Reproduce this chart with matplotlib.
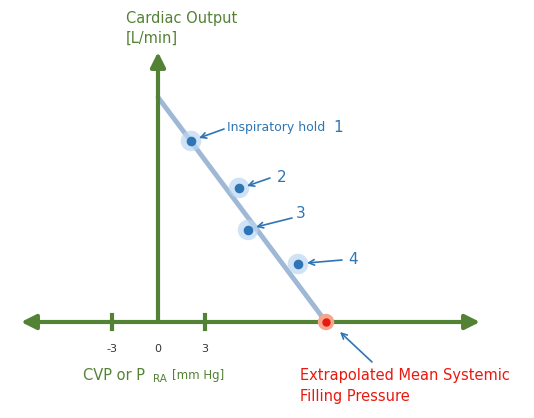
import matplotlib
matplotlib.use("Agg")
import matplotlib.pyplot as plt

S = 15.5
cvp = [2.13, 5.23, 5.81, 9.03]
co = [11.68, 8.65, 5.94, 3.74]
labels = ["1", "2", "3", "4"]
line_x = [0, 10.84]
line_y = [14.5, 0]
ticks = [-3, 0, 3]

fig = plt.figure(figsize=(5.34, 4.18), dpi=100)
ax = fig.add_axes([0, 0, 1, 1])
ax.set_xlim(-158/S, (534-158)/S)
ax.set_ylim(-(418-322)/S, 322/S)
ax.axis("off")

def px(x, y):
    return ((x-158)/S, (322-y)/S)

G = "#548235"; B = "#2e75b6"; R = "#e8190f"
ax.annotate("", xy=(-137/S, 0), xytext=(322/S, 0),
            arrowprops=dict(arrowstyle="<|-|>", color=G, lw=3, mutation_scale=22, shrinkA=0, shrinkB=0))
ax.annotate("", xy=(0, 270/S), xytext=(0, 0),
            arrowprops=dict(arrowstyle="-|>", color=G, lw=3, mutation_scale=22, shrinkA=0, shrinkB=0))
for t in ticks:
    if t != 0:
        ax.plot([t, t], [-0.45, 0.45], color=G, lw=3)
    ax.text(t, -1.75, str(t), ha="center", va="center", fontsize=8, color="#333333")

ax.plot(line_x, line_y, color="#9fb8d6", lw=3.5, solid_capstyle="round", zorder=2)
ax.scatter(cvp, co, s=220, color="#bcd7f2", alpha=0.7, zorder=3, edgecolors="none")
ax.scatter(cvp, co, s=35, color=B, zorder=4)
ax.scatter([line_x[1]], [0], s=140, color="#f7a48a", zorder=3, edgecolors="none")
ax.scatter([line_x[1]], [0], s=25, color=R, zorder=4)

tails = [px(224, 129), px(270, 178), px(292, 218), px(342, 260)]
heads = [px(199, 138), px(247, 186), px(256, 227), px(307, 263)]
for h, t in zip(heads, tails):
    ax.annotate("", xy=h, xytext=t, arrowprops=dict(arrowstyle="->", color=B, lw=1.2, shrinkA=0, shrinkB=0))
ax.text(*px(227, 128), "Inspiratory hold", color=B, fontsize=9, va="center", ha="left")
ax.text(*px(333, 127), labels[0], color=B, fontsize=11, va="center", ha="left")
ax.text(*px(277, 177), labels[1], color=B, fontsize=11, va="center", ha="left")
ax.text(*px(296, 214), labels[2], color=B, fontsize=11, va="center", ha="left")
ax.text(*px(348, 259), labels[3], color=B, fontsize=11, va="center", ha="left")

ax.annotate("", xy=px(340, 332), xytext=px(372, 362),
            arrowprops=dict(arrowstyle="->", color=B, lw=1.2, shrinkA=0, shrinkB=0))
ax.text(*px(300, 386), "Extrapolated Mean Systemic\nFilling Pressure", color=R,
        fontsize=10.5, va="center", ha="left", linespacing=1.5)

ax.text(*px(126, 28), "Cardiac Output\n[L/min]", color=G, fontsize=10.5, va="center", ha="left", linespacing=1.4)
ax.text(*px(83, 376), "CVP or P", color=G, fontsize=10.5, va="center", ha="left")
ax.text(*px(153, 379), "RA", color=G, fontsize=7.5, va="center", ha="left")
ax.text(*px(172, 376), "[mm Hg]", color=G, fontsize=8.5, va="center", ha="left")

fig.savefig("out.png", dpi=100)
